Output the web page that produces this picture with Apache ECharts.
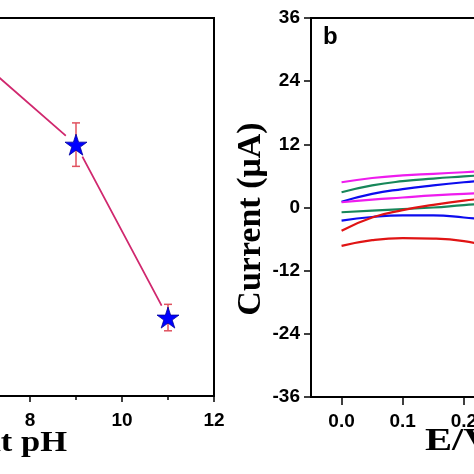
<!DOCTYPE html>
<html>
<head>
<meta charset="utf-8">
<script src="https://cdn.jsdelivr.net/npm/echarts@6/dist/echarts.min.js"></script>
<style>
  html, body { margin: 0; padding: 0; background: #fff; }
  #chart { width: 474px; height: 474px; }
</style>
</head>
<body>
<div id="chart"></div>
<script>
// panel a: current vs pH
const phValues = [7, 9, 11];
const peakCurrent = [35.1, 26.6, 8.3];
const peakError = [1.5, 2.3, 1.4];

// panel b: CV branches
const potential = [0.0, 0.05, 0.1, 0.15, 0.2, 0.25];
const magentaUpper = [4.8, 5.6, 6.1, 6.4, 6.7, 7.0];
const greenUpper = [2.9, 4.2, 5.0, 5.5, 5.9, 6.3];
const blueUpper = [1.1, 2.6, 3.5, 4.2, 4.8, 5.3];
const magentaLower = [1.0, 1.5, 1.9, 2.3, 2.6, 2.9];
const greenLower = [-0.9, -0.6, -0.3, 0.0, 0.45, 0.8];
const blueLower = [-2.5, -1.8, -1.5, -1.5, -1.9, -2.5];
const redUpper = [-4.4, -1.9, -0.5, 0.5, 1.3, 1.9];
const redLower = [-7.3, -6.2, -5.8, -5.9, -6.4, -7.6];

const yTicksB = [-36, -24, -12, 0, 12, 24, 36];

const starPath = 'path://M50,0 L61.23,34.55 L97.55,34.55 L68.16,55.9 L79.39,90.45 L50,69.1 L20.61,90.45 L31.84,55.9 L2.45,34.55 L38.77,34.55 Z';

const sansFont = 'Liberation Sans';
const serifFont = 'Liberation Serif';

const chart = echarts.init(document.getElementById('chart'));

const pair = (xs, ys) => xs.map((x, i) => [x, ys[i]]);

const cvLine = (data, color) => ({
  type: 'line',
  xAxisIndex: 1,
  yAxisIndex: 1,
  data: pair(potential, data),
  smooth: true,
  showSymbol: false,
  lineStyle: { color: color, width: 2.2 },
  z: 3
});

const option = {
  animation: false,
  backgroundColor: '#fff',
  grid: [
    { left: -62, right: 260, top: 18, bottom: 78, outerBoundsMode: 'none', containLabel: false, show: true, borderColor: '#000', borderWidth: 2 },
    { left: 311, right: -51, top: 18, bottom: 77, outerBoundsMode: 'none', containLabel: false, show: true, borderColor: '#000', borderWidth: 2 }
  ],
  xAxis: [
    {
      gridIndex: 0,
      type: 'value',
      min: 6,
      max: 12,
      interval: 2,
      axisLine: { onZero: false, lineStyle: { color: '#000', width: 2 } },
      axisTick: { show: true, length: 6, lineStyle: { color: '#000', width: 1.5 } },
      minorTick: { show: true, splitNumber: 2, length: 4, lineStyle: { color: '#000', width: 1.5 } },
      splitLine: { show: false },
      axisLabel: { color: '#000', fontFamily: sansFont, fontWeight: 'bold', fontSize: 19, margin: 15 }
    },
    {
      gridIndex: 1,
      type: 'value',
      min: -0.05,
      max: 0.3,
      splitNumber: 4,
      axisLine: { onZero: false, lineStyle: { color: '#000', width: 2 } },
      axisTick: { show: true, length: 8, lineStyle: { color: '#000', width: 1.5 } },
      splitLine: { show: false },
      axisLabel: {
        color: '#000', fontFamily: sansFont, fontWeight: 'bold', fontSize: 19, margin: 15,
        showMinLabel: false,
        formatter: v => v.toFixed(1)
      }
    }
  ],
  yAxis: [
    { gridIndex: 0, type: 'value', min: 0, max: 40, show: false },
    {
      gridIndex: 1,
      type: 'value',
      min: yTicksB[0],
      max: yTicksB[yTicksB.length - 1],
      interval: 12,
      axisLine: { show: true, onZero: false, lineStyle: { color: '#000', width: 2 } },
      axisTick: { show: true, length: 7, lineStyle: { color: '#000', width: 1.5 } },
      splitLine: { show: false },
      axisLabel: { color: '#000', fontFamily: sansFont, fontWeight: 'bold', fontSize: 19, margin: 11 }
    }
  ],
  graphic: [
    {
      type: 'text', x: 67, y: 443, scaleX: 1.15,
      style: { text: 'Different pH', font: 'bold 30px "' + serifFont + '"', fill: '#000', textAlign: 'right', textVerticalAlign: 'middle' }
    },
    {
      type: 'text', x: 425, y: 442, scaleX: 1.27,
      style: { text: 'E/V vs. Ag/AgCl', font: 'bold 32px "' + serifFont + '"', fill: '#000', textAlign: 'left', textVerticalAlign: 'middle' }
    },
    {
      type: 'text', x: 251, y: 219, rotation: Math.PI / 2,
      style: { text: 'Current (μA)', font: 'bold 34px "' + serifFont + '"', fill: '#000', textAlign: 'center', textVerticalAlign: 'middle' }
    },
    {
      type: 'text', x: 323, y: 25,
      style: { text: 'b', font: 'bold 24px "' + sansFont + '"', fill: '#000', textAlign: 'left', textVerticalAlign: 'top' }
    }
  ],
  series: [
    {
      type: 'line',
      xAxisIndex: 0,
      yAxisIndex: 0,
      data: pair(phValues, peakCurrent),
      symbol: 'circle',
      symbolSize: 27,
      itemStyle: { color: '#fff', borderWidth: 0 },
      lineStyle: { color: '#d0286e', width: 1.8 },
      z: 2
    },
    {
      type: 'custom',
      xAxisIndex: 0,
      yAxisIndex: 0,
      data: phValues.map((x, i) => [x, peakCurrent[i], peakError[i]]),
      renderItem: (params, api) => {
        const x = api.value(0);
        const y = api.value(1);
        const e = api.value(2);
        const top = api.coord([x, y + e]);
        const bot = api.coord([x, y - e]);
        const st = { stroke: '#e0525f', lineWidth: 1.5 };
        return {
          type: 'group',
          children: [
            { type: 'line', shape: { x1: top[0], y1: top[1], x2: bot[0], y2: bot[1] }, style: st },
            { type: 'line', shape: { x1: top[0] - 4, y1: top[1], x2: top[0] + 4, y2: top[1] }, style: st },
            { type: 'line', shape: { x1: bot[0] - 4, y1: bot[1], x2: bot[0] + 4, y2: bot[1] }, style: st }
          ]
        };
      },
      z: 4
    },
    {
      type: 'scatter',
      xAxisIndex: 0,
      yAxisIndex: 0,
      data: pair(phValues, peakCurrent),
      symbol: starPath,
      symbolSize: [22, 21],
      itemStyle: { color: '#0000ff', borderColor: '#00009a', borderWidth: 0.8, opacity: 1 },
      z: 5
    },
    cvLine(magentaUpper, '#ee1cee'),
    cvLine(greenUpper, '#17875a'),
    cvLine(blueUpper, '#0c0cee'),
    cvLine(magentaLower, '#ee1cee'),
    cvLine(greenLower, '#17875a'),
    cvLine(blueLower, '#0c0cee'),
    cvLine(redUpper, '#e01414'),
    cvLine(redLower, '#e01414')
  ]
};

chart.setOption(option);
</script>
</body>
</html>
